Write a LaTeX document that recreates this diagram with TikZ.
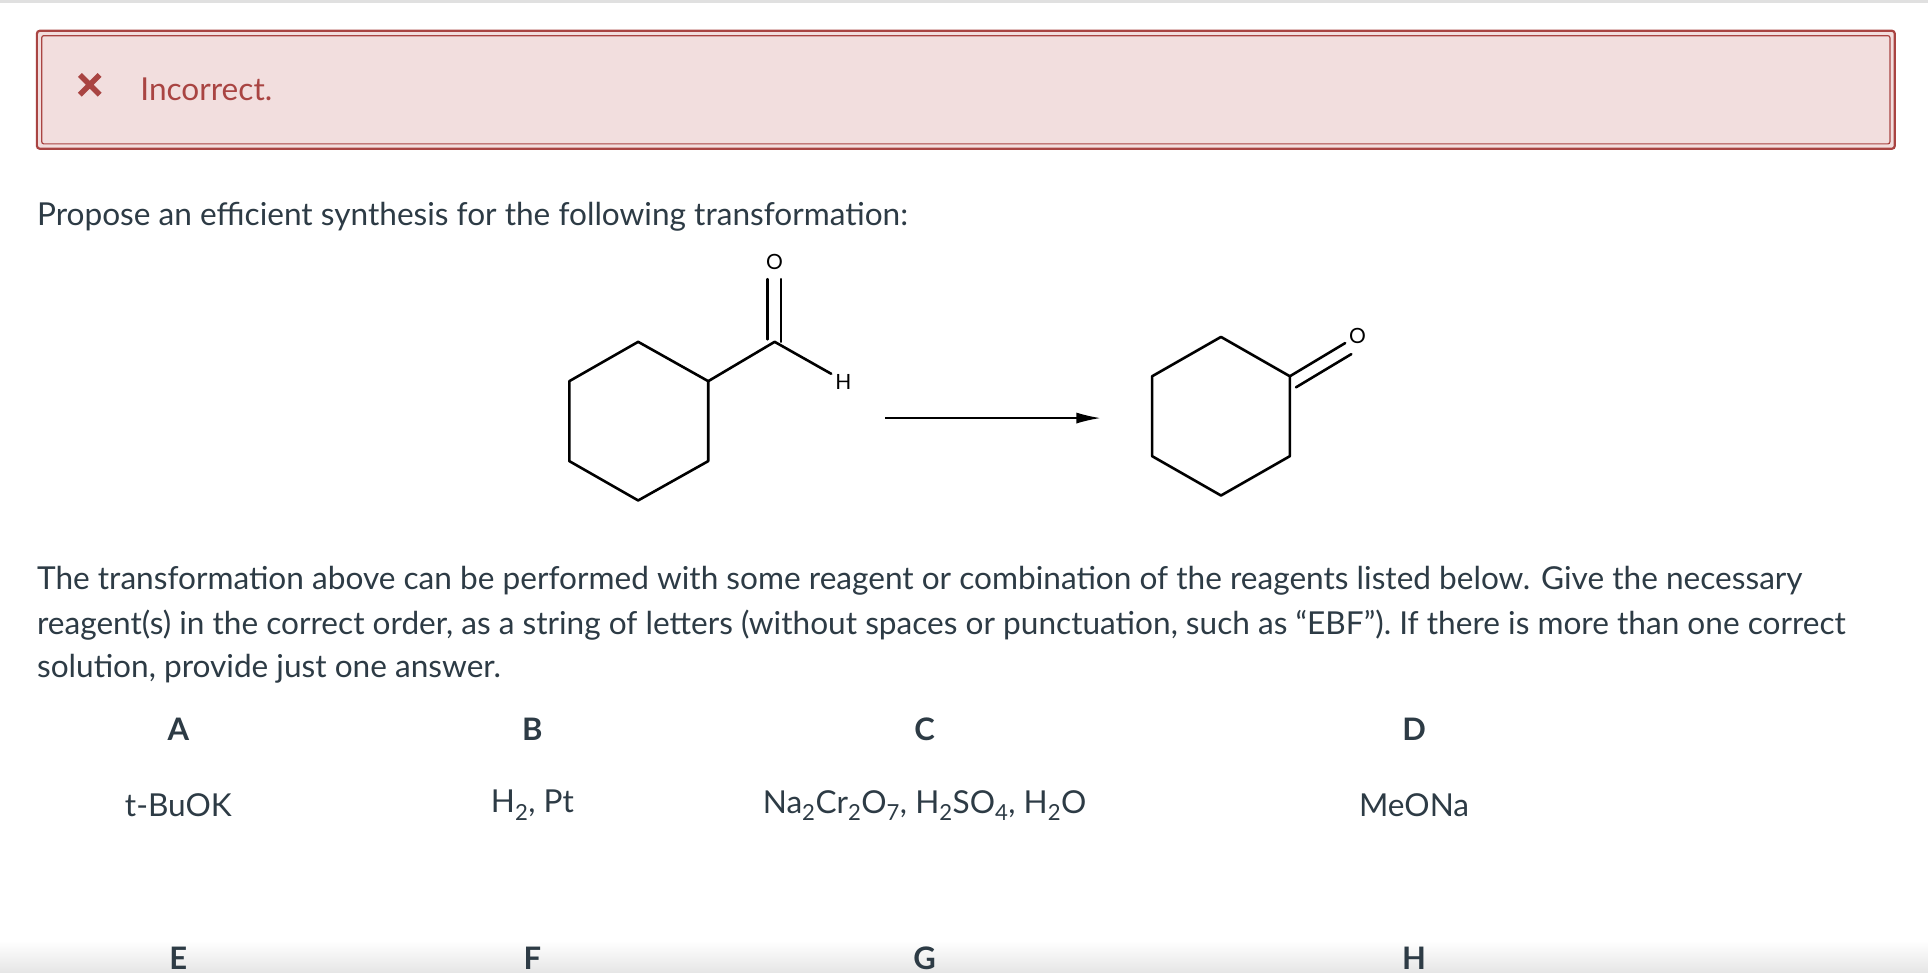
\documentclass[tikz,border=0pt]{standalone}
\usepackage{fontspec}
\setmainfont{Lato}
\usetikzlibrary{arrows.meta}
\definecolor{alertbg}{HTML}{F2DEDE}
\definecolor{alertbd}{HTML}{A94442}
\definecolor{txt}{HTML}{2D3B45}
\begin{document}
\begin{tikzpicture}[x=1.2296pt,y=-1.2296pt,
  body/.style={font=\fontsize{31.6}{36}\selectfont, text=txt, inner sep=0},
  lab/.style={font=\fontsize{31}{36}\selectfont\bfseries, text=txt, inner sep=0},
  atom/.style={font=\fontsize{21}{24}\selectfont, text=black, inner sep=1pt, fill=white},
  bond/.style={line width=2.6pt, line join=round, line cap=round}]
\useasboundingbox (0,0) rectangle (1568,791);
\fill[white] (0,0) rectangle (1568,791);
\draw[black!12, line width=3pt] (0,1.5) -- (1568,1.5);
\shade[top color=white, bottom color=black!10] (0,765) rectangle (1568,791);
% alert
\draw[alertbd, line width=2.2pt, fill=alertbg, rounded corners=3pt] (30,25) rectangle (1541,121);
\draw[alertbd, line width=1.2pt, rounded corners=2pt] (34,29) rectangle (1537,117);
\draw[alertbd, line width=5.5pt] (65,61) -- (81,77) (81,61) -- (65,77);
\node[body, text=alertbd, anchor=west] (inc) at (114,73) {Incorrect.};
\node[body, anchor=west] (q) at (30,176) {Propose an efficient synthesis for the following transformation:};
% left molecule
\draw[bond] (463,310) -- (519,278) -- (576,310) -- (576,375) -- (519,407) -- (463,375) -- cycle;
\draw[bond] (576,310) -- (630,278);
\draw[bond] (624,276) -- (624,227) (635,278) -- (635,227);
\node[atom] (o1) at (630,213) {O};
\draw[bond] (630,278) -- (676,304);
\node[atom] (h1) at (686,311) {H};
% arrow
\coordinate (a1) at (720,340); \coordinate (a2) at (895,340);
\draw[line width=1.6pt, -{Latex[length=24pt,width=11pt]}] (a1) -- (a2);
% right molecule
\draw[bond] (937,306) -- (993,274) -- (1049,306) -- (1049,371) -- (993,403) -- (937,371) -- cycle;
\draw[bond] (1049,306) -- (1094,279);
\draw[bond] (1054,315) -- (1099,288);
\node[atom] (o2) at (1104,273) {O};
% paragraph
\node[body, anchor=west] (p1) at (30,472) {The transformation above can be performed with some reagent or combination of the reagents listed below. Give the necessary};
\node[body, anchor=west] (p2) at (30,508) {reagent(s) in the correct order, as a string of letters (without spaces or punctuation, such as “EBF”). If there is more than one correct};
\node[body, anchor=west] (p3) at (30,544) {solution, provide just one answer.};
% reagents
\node[lab] (A) at (145,593) {A};
\node[lab] (B) at (433,593) {B};
\node[lab] (C) at (752,593) {C};
\node[lab] (D) at (1150,593) {D};
\node[body] (rA) at (145,655) {t-BuOK};
\node[body] (rB) at (433,655) {H\textsubscript{2}, Pt};
\node[body] (rC) at (752,655) {Na\textsubscript{2}Cr\textsubscript{2}O\textsubscript{7}, H\textsubscript{2}SO\textsubscript{4}, H\textsubscript{2}O};
\node[body] (rD) at (1150,655) {MeONa};
\node[lab] (E) at (145,779) {E};
\node[lab] (F) at (433,779) {F};
\node[lab] (G) at (752,779) {G};
\node[lab] (H) at (1150,779) {H};
\end{tikzpicture}
\end{document}
